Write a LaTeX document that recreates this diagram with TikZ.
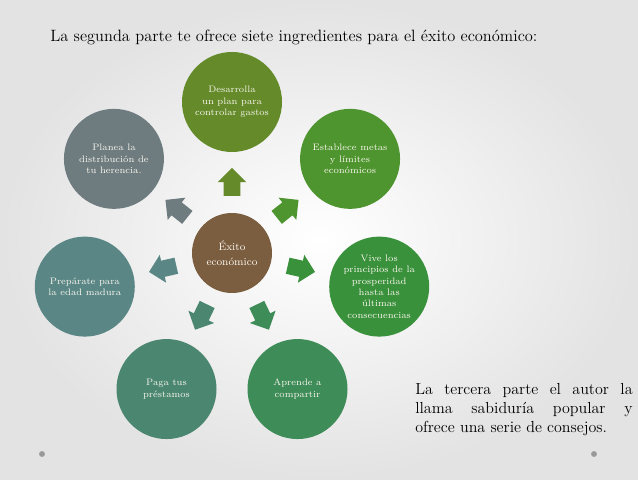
\documentclass[tikz,border=0pt]{standalone}
\usetikzlibrary{shapes.arrows, calc, positioning}
\definecolor{exitoCafe} {RGB}{123, 93, 64}
\definecolor{pasoOliva} {RGB}{100,138, 42}
\definecolor{pasoVerde} {RGB}{ 78,149, 47}
\definecolor{pasoPasto} {RGB}{ 58,145, 60}
\definecolor{pasoMenta} {RGB}{ 62,140, 88}
\definecolor{pasoJade}  {RGB}{ 74,134,112}
\definecolor{pasoAgua}  {RGB}{ 90,135,133}
\definecolor{pasoGris}  {RGB}{110,124,128}
\definecolor{textoCrema}{RGB}{250,247,238}

\begin{document}
\begin{tikzpicture}[x=0.75pt, y=0.75pt,
  paso/.style={circle, minimum size=75pt, inner sep=1pt, align=center,
    text=textoCrema, font=\fontsize{7}{8.6}\selectfont},
  flecha/.style={single arrow, minimum height=21pt, inner xsep=0pt,
    inner ysep=6pt, single arrow head extend=4.5pt},
  texto/.style={inner sep=0pt, font=\fontsize{12}{14.25}\selectfont},
]
%% Page: 638 x 479 px, y upwards
\useasboundingbox (0,0) rectangle (638,479);
\shade[inner color=white, outer color=black!11] (0,0) rectangle (638,479);

%% ── Title ───────────────────────────────────────────────────────────────────
\node[texto, anchor=base west, font=\fontsize{12.3}{14}\selectfont] (titulo) at (50,437)
  {La segunda parte te ofrece siete ingredientes para el éxito económico:};

%% ── Centre ──────────────────────────────────────────────────────────────────
\coordinate (ctr) at (232,226);
\def\rc{151}   % centre to circle
\def\rf{67}    % centre to arrow
\node[paso, fill=exitoCafe, minimum size=60pt, font=\fontsize{8}{11}\selectfont]
  (exito) at (ctr) {Éxito\\económico};

%% ── Seven ingredients (clockwise from the top) ──────────────────────────────
\node[paso, fill=pasoOliva] (plan)     at ($(ctr)+(90:\rc)$)      {Desarrolla\\un plan para\\controlar gastos};
\node[paso, fill=pasoVerde] (metas)    at ($(ctr)+(38.57:\rc)$)   {Establece metas\\y límites\\económicos};
\node[paso, fill=pasoPasto] (vive)     at ($(ctr)+(-12.86:\rc)$)  {Vive los\\principios de la\\prosperidad\\hasta las\\últimas\\consecuencias};
\node[paso, fill=pasoMenta] (comparte) at ($(ctr)+(-64.29:\rc)$)  {Aprende a\\compartir};
\node[paso, fill=pasoJade]  (presta)   at ($(ctr)+(-115.71:\rc)$) {Paga tus\\préstamos};
\node[paso, fill=pasoAgua]  (madura)   at ($(ctr)+(-167.14:\rc)$) {Prepárate para\\la edad madura};
\node[paso, fill=pasoGris]  (herencia) at ($(ctr)+(141.43:\rc)$)  {Planea la\\distribución de\\tu herencia.};

%% ── Arrows out of the centre ────────────────────────────────────────────────
\node[flecha, fill=pasoOliva, rotate=90]      (fPlan)     at ($(ctr)+(90:\rf)$)      {};
\node[flecha, fill=pasoVerde, rotate=38.57]   (fMetas)    at ($(ctr)+(38.57:\rf)$)   {};
\node[flecha, fill=pasoPasto, rotate=-12.86]  (fVive)     at ($(ctr)+(-12.86:\rf)$)  {};
\node[flecha, fill=pasoMenta, rotate=-64.29]  (fComparte) at ($(ctr)+(-64.29:\rf)$)  {};
\node[flecha, fill=pasoJade,  rotate=-115.71] (fPresta)   at ($(ctr)+(-115.71:\rf)$) {};
\node[flecha, fill=pasoAgua,  rotate=-167.14] (fMadura)   at ($(ctr)+(-167.14:\rf)$) {};
\node[flecha, fill=pasoGris,  rotate=141.43]  (fHerencia) at ($(ctr)+(141.43:\rf)$)  {};

%% ── Third part ──────────────────────────────────────────────────────────────
\node[texto, anchor=north west, text width=163pt, align=justify] (tercera) at (415,96)
  {La tercera parte el autor la\linebreak llama sabiduría popular y\linebreak ofrece una serie de consejos.};

%% ── Footer dots ─────────────────────────────────────────────────────────────
\fill[black!40] (42,25) circle (2.2pt);
\fill[black!40] (594,25) circle (2.2pt);

\end{tikzpicture}
\end{document}
